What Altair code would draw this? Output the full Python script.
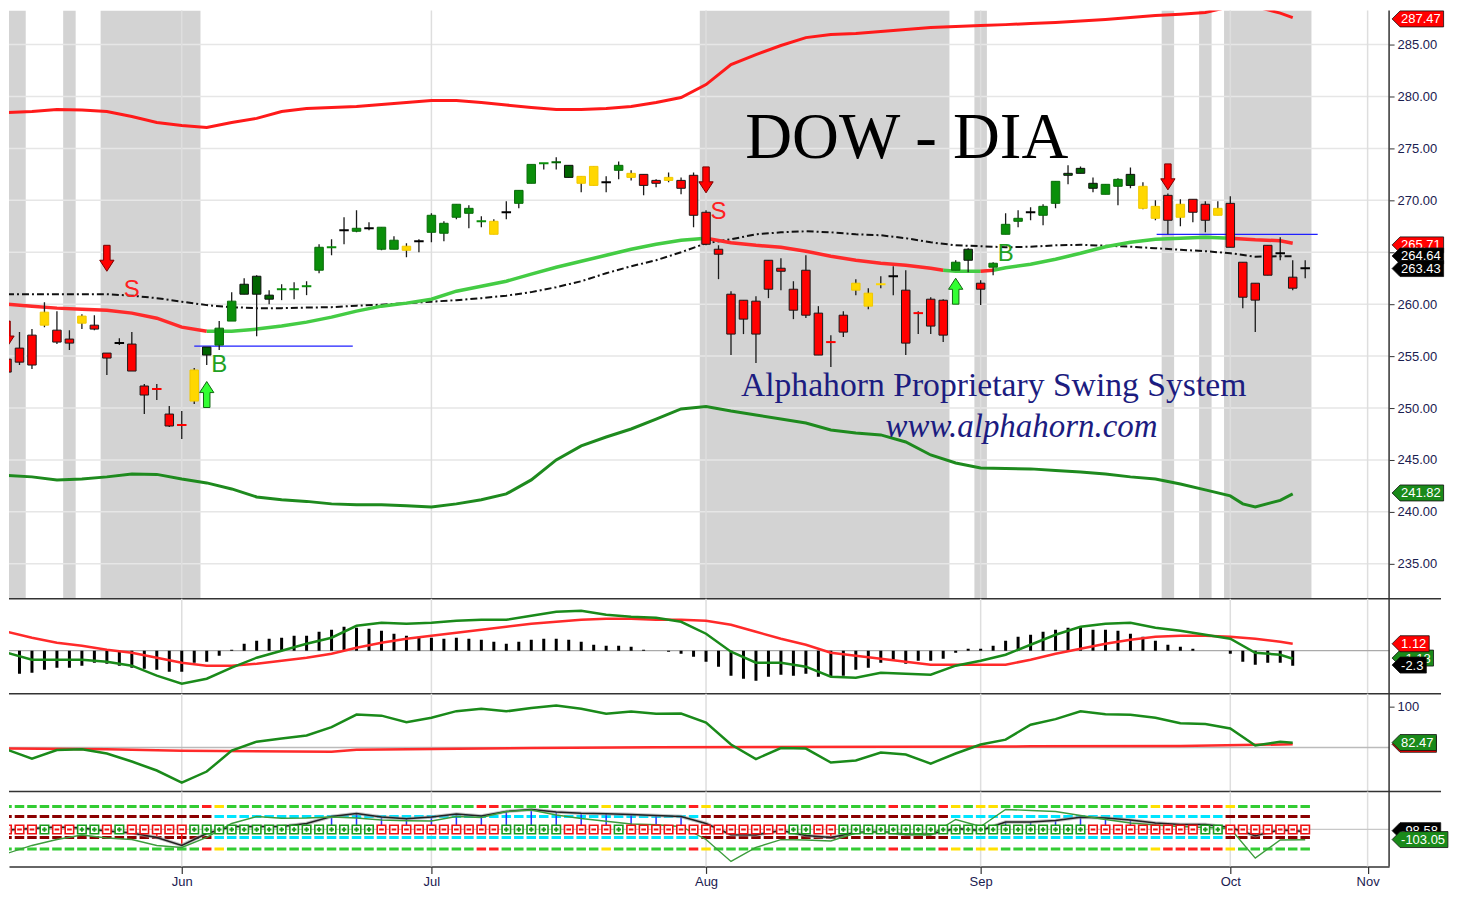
import altair as alt
import pandas as pd

# ---------------- layout / style ----------------
W = 1382
H_MAIN, H_MACD, H_STO, H_BOT = 589, 95, 98, 75
XDOM = [-13.84, 96.72]
PRICE_DOM = [231.63, 288.27]
MACD_DOM = [-6.88, 8.32]
STO_DOM = [58.54, 106.34]
BOT_DOM = [-116.5, -79.0]
FONT = "Liberation Sans"
SERIF = "Liberation Serif"
AXCOL = "#1a2050"
BORDER = "#333333"
TAG_X0 = W + 3
SEP_X2 = 1434

# ---------------- data ----------------
month_idx = [0, 20, 42, 64, 84, 95]
month_lbl = ["Jun", "Jul", "Aug", "Sep", "Oct", "Nov"]
price_ticks = [235, 240, 245, 250, 255, 260, 265, 270, 275, 280, 285]
shade_start = [-14, -9, -6, 42, 64, 79, 82, 84]
shade_end = [-13, -9, 1, 61, 64, 79, 82, 90]

cndl_idx = list(range(-14, 91))
cndl_high = [
    255.67, 257.31, 257.60, 260.19, 259.33, 257.50, 259.04, 258.94, 255.29, 256.73,
    257.31, 252.31, 252.31, 250.19, 249.71, 253.85, 255.87, 258.37, 261.16, 262.50,
    262.79, 261.35, 261.92, 262.12, 262.21, 265.77, 266.25, 268.37, 269.04, 267.89,
    267.41, 266.54, 265.87, 266.25, 268.75, 267.98, 269.62, 269.52, 268.46, 268.17,
    269.91, 270.96, 273.46, 273.56, 274.14, 273.37, 272.31, 273.27, 272.31, 273.75,
    272.89, 272.50, 272.02, 272.69, 272.21, 272.69, 269.04, 265.67, 261.25, 260.38,
    260.77, 264.23, 264.42, 262.21, 264.71, 259.81, 257.02, 259.33, 262.41, 261.54,
    262.69, 263.66, 263.27, 259.33, 260.67, 260.48, 264.23, 265.39, 262.31, 264.04,
    268.75, 269.04, 269.33, 269.62, 271.83, 273.37, 273.27, 272.21, 271.54, 272.12,
    273.17, 271.73, 270.00, 270.67, 270.10, 270.10, 269.91, 269.91, 270.39, 264.04,
    262.02, 265.67, 266.44, 264.23, 264.23]
cndl_low = [
    252.50, 254.14, 253.75, 257.79, 256.16, 255.58, 257.60, 257.50, 253.17, 256.06,
    253.56, 249.42, 250.77, 248.17, 247.02, 250.39, 254.14, 255.58, 258.37, 260.96,
    256.92, 260.00, 260.39, 260.48, 260.87, 262.98, 264.71, 265.77, 266.92, 267.12,
    265.19, 265.29, 264.52, 265.00, 265.96, 266.06, 268.17, 267.31, 267.41, 266.73,
    268.17, 269.23, 271.64, 272.98, 272.98, 272.21, 270.77, 271.44, 270.77, 272.02,
    271.92, 270.48, 271.25, 271.73, 270.58, 267.41, 265.67, 262.41, 255.10, 257.12,
    254.33, 260.58, 261.35, 258.56, 258.66, 255.10, 253.94, 256.83, 260.87, 259.52,
    261.54, 260.87, 255.10, 257.12, 257.12, 256.35, 263.27, 263.08, 259.91, 262.79,
    266.73, 267.41, 268.08, 267.60, 269.23, 271.54, 272.60, 270.77, 270.58, 269.52,
    271.16, 269.14, 268.08, 266.73, 267.50, 267.89, 266.92, 268.56, 265.48, 259.62,
    257.31, 262.79, 264.23, 261.35, 262.50]
cndl_top = [
    254.71, 255.77, 257.02, 259.23, 257.50, 256.64, 258.85, 257.98, 255.29, 256.25,
    256.16, 252.12, 251.83, 249.42, 248.37, 253.66, 255.87, 257.69, 260.29, 261.92,
    262.69, 260.87, 261.44, 261.44, 261.73, 265.48, 265.48, 267.12, 267.31, 267.31,
    267.41, 266.16, 265.58, 266.06, 268.56, 267.79, 269.62, 269.23, 267.98, 267.98,
    268.85, 270.96, 273.46, 273.56, 273.66, 273.37, 272.31, 273.27, 271.73, 273.37,
    272.60, 272.50, 271.92, 272.21, 271.92, 272.41, 268.85, 265.29, 260.96, 260.38,
    260.29, 264.23, 263.46, 261.44, 263.27, 259.14, 256.35, 258.94, 262.02, 261.06,
    261.92, 262.69, 261.35, 259.14, 260.48, 260.38, 264.04, 265.29, 262.02, 263.94,
    267.69, 268.27, 268.85, 269.42, 271.83, 272.60, 273.08, 271.64, 271.54, 272.02,
    272.50, 271.35, 269.42, 270.48, 269.62, 270.10, 269.62, 269.23, 269.71, 264.04,
    262.02, 265.67, 264.91, 262.60, 263.46]
cndl_bot = [
    253.46, 254.42, 254.14, 257.98, 256.35, 256.25, 258.17, 257.60, 254.81, 256.25,
    253.56, 251.25, 251.83, 248.27, 248.37, 250.67, 255.10, 256.06, 258.37, 260.96,
    260.96, 260.48, 261.44, 261.44, 261.73, 263.27, 265.48, 267.12, 267.02, 267.31,
    265.29, 265.29, 265.19, 266.06, 266.92, 266.83, 268.37, 268.75, 267.98, 266.73,
    268.85, 269.71, 271.64, 273.56, 273.66, 272.21, 271.64, 271.44, 271.73, 272.89,
    272.21, 271.44, 271.64, 271.92, 271.16, 268.56, 265.77, 264.81, 257.12, 258.56,
    257.12, 261.44, 263.17, 259.42, 258.94, 255.10, 256.35, 257.31, 261.35, 259.81,
    261.92, 262.69, 256.25, 259.14, 257.89, 257.02, 263.27, 264.23, 261.44, 263.56,
    266.73, 267.98, 268.85, 268.56, 269.71, 272.41, 272.60, 271.16, 270.58, 271.35,
    271.44, 269.23, 268.27, 268.08, 268.37, 268.85, 268.08, 268.56, 265.48, 260.67,
    260.39, 262.79, 264.91, 261.54, 263.46]
cndl_col = ("R R R Y R R Y R R K "
            "R R R R R Y D G G D "
            "D D G G G G G K G K "
            "G G Y K G G G G G Y "
            "K G G G D D Y Y K G "
            "Y R R Y R R R R R R "
            "R R R R R R R R Y Y "
            "Y K R R R R G D R G "
            "G G K G G D D D G G "
            "D Y Y R Y R R Y R R "
            "R R K R K").split()

band_idx = list(range(-14, 85, 2)) + [85, 86, 88, 89]
upper_band = [
    278.46, 278.56, 278.75, 278.70, 278.56, 278.08, 277.50, 277.21, 277.02, 277.50,
    277.89, 278.56, 278.85, 278.94, 279.04, 279.23, 279.42, 279.62, 279.62, 279.42,
    279.18, 278.94, 278.75, 278.75, 278.85, 279.04, 279.42, 279.90, 281.15, 283.08,
    284.04, 284.91, 285.67, 285.96, 286.06, 286.25, 286.44, 286.64, 286.73, 286.83,
    286.92, 287.02, 287.12, 287.26, 287.41, 287.60, 287.79, 287.93, 288.08, 288.66,
    288.99, 288.66, 288.03, 287.60]
lower_band = [
    243.51, 243.37, 243.08, 243.17, 243.37, 243.65, 243.61, 243.17, 242.79, 242.21,
    241.44, 241.16, 241.01, 240.77, 240.68, 240.68, 240.58, 240.48, 240.77, 241.16,
    241.73, 243.08, 245.00, 246.35, 247.21, 247.98, 248.94, 249.91, 250.15, 249.71,
    249.33, 248.94, 248.56, 247.89, 247.60, 247.41, 246.73, 245.48, 244.71, 244.23,
    244.18, 244.14, 243.99, 243.85, 243.65, 243.37, 243.17, 242.69, 242.12, 241.54,
    240.77, 240.48, 241.11, 241.73]

slow_idx = list(range(-14, 89, 2)) + [89]
slow_line = [
    260.96, 260.96, 260.96, 260.96, 260.96, 260.82, 260.58, 260.24, 259.91, 259.71,
    259.62, 259.62, 259.67, 259.71, 259.86, 259.95, 260.10, 260.24, 260.39, 260.58,
    260.82, 261.16, 261.64, 262.21, 262.98, 263.65, 264.23, 265.00, 265.87, 266.25,
    266.73, 266.92, 267.02, 266.92, 266.73, 266.64, 266.35, 265.96, 265.67, 265.58,
    265.48, 265.53, 265.67, 265.72, 265.63, 265.53, 265.39, 265.24, 265.10, 264.91,
    264.57, 264.62, 264.62]

ma_idx = list(range(-14, 61, 2)) + [61, 62, 64, 65] + list(range(66, 85, 2)) + [86, 88, 89]
ma_val = [
    260.00, 259.81, 259.62, 259.52, 259.42, 259.14, 258.65, 257.79,
    257.40, 257.40, 257.60, 257.89, 258.27, 258.75, 259.33, 259.81, 260.10, 260.48,
    261.25, 261.73, 262.21, 262.89, 263.56, 264.13, 264.71, 265.29, 265.77, 266.16,
    266.35, 265.92, 265.67, 265.48, 265.10, 264.62, 264.23, 263.94, 263.75, 263.46,
    263.27, 263.17, 263.17, 263.27,
    263.51, 263.85, 264.33, 264.90, 265.53, 265.96, 266.25, 266.35, 266.44, 266.35,
    266.20, 266.11, 265.87]
ma_col = list("R" * 8 + "G" * 20 + "R" * 10 + "GG" + "R" + "G" + "G" * 9 + "R" * 4)

blue_x0 = [1, 78.1]
blue_x1 = [13.7, 91]
blue_p = [255.96, 266.73]

arrow_dn_idx = [-14, -6, 42, 79]
arrow_dn_p = [257.12, 264.42, 271.97, 272.26]
arrow_up_idx = [2, 62]
arrow_up_p = [251.30, 261.25]
letter_idx = [-4, 43, 3, 66]
letter_p = [261.35, 268.85, 254.14, 264.81]
letter_txt = ["S", "S", "B", "B"]

main_tag_text = ["287.47", "241.82", "265.71", "264.64", "263.43"]
main_tag_val = [287.47, 241.82, 265.71, 264.64, 263.43]
main_tag_fill = ["#ff0000", "#1a8a1a", "#ff0000", "#000000", "#000000"]

macd_idx = list(range(-14, 89, 2)) + [89]
macd_line = [
    -0.32, -1.44, -1.44, -1.44, -1.76, -2.40, -4.00, -5.28, -4.48, -2.72,
    -1.12, 0.00, 1.12, 2.08, 4.00, 4.48, 4.32, 4.48, 4.80, 4.96,
    4.96, 5.60, 6.24, 6.40, 5.76, 5.44, 5.28, 4.64, 2.72, -0.16,
    -1.92, -1.92, -2.56, -4.16, -4.32, -3.52, -3.68, -3.84, -2.40, -1.60,
    -0.64, 0.96, 2.56, 3.84, 4.32, 4.48, 3.68, 3.20, 2.56, 1.92,
    -0.32, -0.64, -1.28]
macd_signal = [
    3.04, 2.08, 1.28, 0.80, 0.16, -0.32, -1.12, -1.92, -2.40, -2.40,
    -2.08, -1.60, -1.12, -0.48, 0.48, 1.28, 1.92, 2.40, 2.88, 3.36,
    3.84, 4.32, 4.64, 4.96, 5.12, 5.12, 4.96, 4.96, 4.80, 4.16,
    3.04, 1.92, 0.96, -0.32, -0.80, -1.28, -1.76, -2.24, -2.24, -2.24,
    -2.24, -1.44, -0.48, 0.32, 1.12, 1.76, 2.24, 2.40, 2.40, 2.24,
    1.92, 1.44, 1.12]
hist_idx = list(range(-14, 90))
macd_hist = [
    -3.52, -3.68, -3.52, -3.04, -2.72, -2.72, -2.40, -1.92, -2.08, -2.40,
    -2.72, -2.88, -3.04, -3.36, -3.36, -1.92, -1.76, -0.80, 0.16, 1.12,
    1.60, 1.92, 2.08, 2.40, 2.40, 3.04, 3.36, 3.84, 3.68, 3.52,
    3.20, 2.72, 2.40, 2.24, 2.08, 1.92, 2.08, 1.92, 1.76, 1.44,
    1.12, 1.44, 1.76, 1.92, 1.92, 1.76, 1.44, 0.96, 0.80, 0.80,
    0.64, 0.16, 0.00, -0.16, -0.48, -0.96, -1.76, -2.56, -4.00, -4.48,
    -4.80, -4.16, -3.84, -4.00, -3.68, -4.16, -4.16, -4.00, -3.04, -2.72,
    -1.92, -1.44, -2.08, -1.60, -1.60, -1.28, -0.32, 0.32, 0.32, 0.80,
    1.60, 2.24, 2.56, 3.04, 3.36, 3.68, 3.84, 3.36, 3.36, 3.20,
    2.72, 2.24, 1.60, 0.96, 0.64, 0.32, 0.00, 0.00, -0.48, -1.76,
    -2.24, -1.92, -1.92, -2.40]
macd_tag_text = ["-1.18", "1.12", "-2.3"]
macd_tag_val = [-1.18, 1.12, -2.3]
macd_tag_fill = ["#1a8a1a", "#ff0000", "#000000"]

sto_idx = list(range(-14, 89, 2)) + [89]
sto_fast = [
    79.0, 74.6, 78.8, 79.2, 77.1, 73.2, 68.8, 62.9, 68.3, 78.5,
    82.9, 84.4, 85.9, 90.0, 96.1, 95.6, 92.4, 94.6, 97.8, 99.0,
    97.7, 99.3, 100.5, 99.0, 96.5, 97.6, 96.5, 96.6, 92.2, 81.5,
    74.4, 79.8, 79.5, 72.7, 73.7, 77.6, 76.6, 72.2, 77.1, 81.5,
    83.9, 91.2, 93.9, 97.7, 96.3, 96.0, 94.6, 91.9, 91.5, 89.3,
    81.0, 82.9, 82.4]
sto_slow_idx = [-14, -6, 0, 12, 14, 28, 38, 68, 80, 89]
sto_slow = [79.6, 79.2, 78.5, 78.0, 78.9, 79.8, 80.2, 80.6, 80.8, 81.6]
sto_ref_level = [80]
sto_ticks = [100]
sto_tag_text = ["81.60", "82.47"]
sto_tag_val = [81.6, 82.47]
sto_tag_fill = ["#ff0000", "#1a8a1a"]

osc_idx = list(range(-14, 91, 2))
osc_black = [
    -98.25, -97.5, -96.75, -97.25, -98.75, -99.75, -102.0, -106.0,
    -100.0, -96.5, -96.5, -96.5, -95.0, -91.5, -90.0, -91.75, -92.6, -91.75,
    -90.25, -91.25, -89.0, -88.0, -89.25, -89.9, -90.15, -90.5, -91.0, -91.5,
    -95.0, -100.65, -100.75, -98.5, -101.0, -102.0, -99.5, -99.0, -100.5, -100.25,
    -97.5, -98.5, -94.25, -94.25, -93.5, -91.9, -92.25, -93.25, -94.75, -95.5,
    -95.5, -97.0, -101.15, -98.15, -99.0]
osc_green = [
    -110.0, -106.0, -103.0, -100.75, -102.25, -103.0, -106.0, -107.0,
    -102.0, -95.0, -91.5, -92.4, -92.25, -91.75, -92.25, -93.25, -93.6, -93.75,
    -91.5, -92.0, -89.0, -88.25, -90.75, -92.5, -93.9, -95.25, -95.6, -96.5,
    -103.0, -114.0, -107.0, -103.1, -103.25, -103.75, -99.75, -99.0, -100.5, -100.75,
    -93.0, -96.5, -88.0, -88.5, -89.0, -91.0, -93.0, -94.75, -95.75, -96.5,
    -97.0, -97.5, -112.35, -103.25, -103.15]
marker_level = -98.0
marker_sign = ("RRRGRRGGRG" + "RRRRR" + "G" * 15 + "R" * 10 + "G" * 5 + "R" * 4 + "G"
               + "R" * 13 + "GG" + "RR" + "G" * 20 + "R" * 9 + "GG" + "R" * 7)
dash_levels = [-86.5, -91.5, -102.0, -107.75]
dash_kind = ["outer", "inner", "inner", "outer"]
outer_red = [2, 24, 25, 41, 57, 61, 79, 80, 81, 82, 83]
outer_yellow = [3, 34, 42, 62, 64, 65, 78, 84]
inner_col = "M" * 17 + "C" * 39 + "M" * 20 + "C" * 22 + "M" * 7
bot_tag_text = ["-98.58", "-103.05"]
bot_tag_val = [-98.58, -103.05]
bot_tag_fill = ["#000000", "#1a8a1a"]

# ---------------- helpers ----------------
xs = alt.Scale(domain=XDOM, nice=False, zero=False)
label_expr = "[" + ",".join("'%s'" % m for m in month_lbl) + "][indexof([" + \
    ",".join(str(v) for v in month_idx) + "], datum.value)]"
ax_x = alt.Axis(values=month_idx, labelExpr=label_expr, grid=False, domain=True,
                domainColor=BORDER, domainWidth=1.5, ticks=True, tickSize=7,
                tickColor=BORDER, tickWidth=1.2, labelFont=FONT, labelFontSize=13,
                labelColor=AXCOL, labelPadding=2, title=None, orient="bottom")


def X(field, axis=None):
    return alt.X(field, scale=xs, axis=axis)


def mkY(scale, axis):
    def f(field):
        return alt.Y(field, scale=scale, axis=axis)
    return f


ys_main = alt.Scale(domain=PRICE_DOM, nice=False, zero=False)
ax_main = alt.Axis(orient="right", values=price_ticks, format=".2f", grid=False,
                   domain=False, ticks=True, tickSize=5, tickColor=BORDER,
                   labelFont=FONT, labelFontSize=13, labelColor=AXCOL,
                   labelPadding=3, title=None)
YM = mkY(ys_main, ax_main)
ys_macd = alt.Scale(domain=MACD_DOM, nice=False, zero=False)
YD = mkY(ys_macd, None)
ys_sto = alt.Scale(domain=STO_DOM, nice=False, zero=False)
ax_sto = alt.Axis(orient="right", values=sto_ticks, format="d", grid=False,
                  domain=False, ticks=True, tickSize=5, tickColor=BORDER,
                  labelFont=FONT, labelFontSize=13, labelColor=AXCOL,
                  labelPadding=3, title=None)
YS = mkY(ys_sto, ax_sto)
ys_bot = alt.Scale(domain=BOT_DOM, nice=False, zero=False)
YB = mkY(ys_bot, None)


def rule_px(x, x2, y, y2, color=BORDER, w=1.5):
    return alt.Chart(pd.DataFrame({"a": [0]})).mark_rule(color=color, strokeWidth=w).encode(
        x=alt.value(x), x2=alt.value(x2), y=alt.value(y), y2=alt.value(y2))


def vgrid(h, axis=None):
    return alt.Chart(pd.DataFrame({"i": month_idx})).mark_rule(
        color="#dedede", strokeWidth=1.5).encode(
        x=X("i:Q", axis), y=alt.value(0), y2=alt.value(h))


def tag_layers(texts, vals, fills, Yf):
    layers = []
    for t, v, f in zip(texts, vals, fills):
        w = 12 + 7.2 * len(t) - 3.6 * t.count(".") - 2.9 * t.count("-")
        half = w / 2.0
        hh = 8.0 / half
        pt = 8.0 / half
        path = ("M -1 0 L %.4f %.4f L 1 %.4f L 1 %.4f L %.4f %.4f Z"
                % (-1 + pt, -hh, -hh, hh, -1 + pt, hh))
        base = alt.Chart(pd.DataFrame({"v": [v], "t": [t]}))
        shp = base.mark_point(shape=path, size=w * w, filled=True, fill=f,
                              stroke="#111111", strokeWidth=0.8, opacity=1).encode(
            x=alt.value(TAG_X0 + half), y=Yf("v:Q"))
        lab = base.mark_text(align="left", baseline="middle", font=FONT, fontSize=13,
                             color="white", dy=0.5).encode(
            x=alt.value(TAG_X0 + 9), y=Yf("v:Q"), text="t:N")
        layers += [shp, lab]
    return layers


DOWN = "M -0.25 -1 L 0.25 -1 L 0.25 0.15 L 0.55 0.15 L 0 1 L -0.55 0.15 L -0.25 0.15 Z"
UP = "M -0.25 1 L 0.25 1 L 0.25 -0.15 L 0.55 -0.15 L 0 -1 L -0.55 -0.15 L -0.25 -0.15 Z"

# ---------------- main panel ----------------
bands = alt.Chart(pd.DataFrame({"s": shade_start, "e": shade_end})).transform_calculate(
    x0="datum.s - 0.5", x1="datum.e + 0.5").mark_rect(color="#d3d3d3", clip=True).encode(
    x=X("x0:Q"), x2="x1:Q", y=alt.value(0), y2=alt.value(H_MAIN))
hgrid = alt.Chart(pd.DataFrame({"p": price_ticks})).mark_rule(
    color="#e6e6e6", strokeWidth=1.5).encode(y=YM("p:Q"), x=alt.value(0), x2=alt.value(W))

fill_map = {"R": "#ff0000", "G": "#0a8f0a", "D": "#006400", "Y": "#ffd700", "K": "#000000"}
stroke_map = {"R": "#1a1a1a", "G": "#0a6a0a", "D": "#101010", "Y": "#f0c800", "K": "#000000"}
cd = pd.DataFrame({"i": cndl_idx, "hi": cndl_high, "lo": cndl_low,
                   "top": cndl_top, "bot": cndl_bot, "c": cndl_col})
cd["fill"] = cd["c"].map(fill_map)
cd["stroke"] = cd["c"].map(stroke_map)
is_cross = cd["top"] == cd["bot"]

wicks = alt.Chart(cd).mark_rule(color="#1a1a1a", strokeWidth=1.3, clip=True).encode(
    x=X("i:Q"), y=YM("hi:Q"), y2="lo:Q")
bodies = alt.Chart(cd[~is_cross]).transform_calculate(
    xa="datum.i - 0.34", xb="datum.i + 0.34").mark_rect(strokeWidth=1, clip=True).encode(
    x=X("xa:Q"), x2="xb:Q", y=YM("top:Q"), y2="bot:Q",
    fill=alt.Fill("fill:N", scale=None), stroke=alt.Stroke("stroke:N", scale=None))
crosses = alt.Chart(cd[is_cross]).transform_calculate(
    xa="datum.i - 0.38", xb="datum.i + 0.38").mark_rule(strokeWidth=2, clip=True).encode(
    x=X("xa:Q"), x2="xb:Q", y=YM("top:Q"), color=alt.Color("fill:N", scale=None))

upper = alt.Chart(pd.DataFrame({"i": band_idx, "v": upper_band})).mark_line(
    color="#ff1a1a", strokeWidth=3, clip=True).encode(x=X("i:Q"), y=YM("v:Q"))
lower = alt.Chart(pd.DataFrame({"i": band_idx, "v": lower_band})).mark_line(
    color="#1e8a1e", strokeWidth=3, clip=True).encode(x=X("i:Q"), y=YM("v:Q"))
slow = alt.Chart(pd.DataFrame({"i": slow_idx, "v": slow_line})).mark_line(
    color="#111111", strokeWidth=2, strokeDash=[7, 3, 2, 3], clip=True).encode(
    x=X("i:Q"), y=YM("v:Q"))

ma_rows = []
run = 0
seen = set()
for k in range(len(ma_idx) - 1):
    if k > 0 and ma_col[k] != ma_col[k - 1]:
        run += 1
    colr = "#ff2a2a" if ma_col[k] == "R" else "#44cc44"
    for j in (k, k + 1):
        if (run, j) not in seen:
            seen.add((run, j))
            ma_rows.append({"i": ma_idx[j], "v": ma_val[j], "run": run, "col": colr})
ma = alt.Chart(pd.DataFrame(ma_rows)).mark_line(strokeWidth=3.5, clip=True).encode(
    x=X("i:Q"), y=YM("v:Q"), color=alt.Color("col:N", scale=None), detail="run:N")

blue = alt.Chart(pd.DataFrame({"x0": blue_x0, "x1": blue_x1, "p": blue_p})).mark_rule(
    color="#2020ff", strokeWidth=1.3, clip=True).encode(x=X("x0:Q"), x2="x1:Q", y=YM("p:Q"))

arr_dn = alt.Chart(pd.DataFrame({"i": arrow_dn_idx, "p": arrow_dn_p})).mark_point(
    shape=DOWN, size=676, filled=True, fill="#ff0000", stroke="#7a0000",
    strokeWidth=1, opacity=1, clip=True).encode(x=X("i:Q"), y=YM("p:Q"))
arr_up = alt.Chart(pd.DataFrame({"i": arrow_up_idx, "p": arrow_up_p})).mark_point(
    shape=UP, size=676, filled=True, fill="#33ff33", stroke="#116611",
    strokeWidth=1, opacity=1, clip=True).encode(x=X("i:Q"), y=YM("p:Q"))
letters = alt.Chart(pd.DataFrame({
    "i": letter_idx, "p": letter_p, "t": letter_txt,
    "c": ["#ff2020" if t == "S" else "#22a022" for t in letter_txt]})).mark_text(
    font=FONT, fontSize=24, baseline="middle").encode(
    x=X("i:Q"), y=YM("p:Q"), text="t:N", color=alt.Color("c:N", scale=None))

t1 = alt.Chart(pd.DataFrame({"t": ["DOW - DIA"]})).mark_text(
    font=SERIF, fontSize=65, color="#000000", align="center", baseline="alphabetic").encode(
    x=alt.value(899), y=alt.value(148), text="t:N")
t2 = alt.Chart(pd.DataFrame({"t": ["Alphahorn Proprietary Swing System"]})).mark_text(
    font=SERIF, fontSize=33.7, color="#1c1c80", align="center", baseline="alphabetic").encode(
    x=alt.value(986), y=alt.value(386), text="t:N")
t3 = alt.Chart(pd.DataFrame({"t": ["www.alphahorn.com"]})).mark_text(
    font=SERIF, fontSize=33, fontStyle="italic", color="#1c1c80", align="center",
    baseline="alphabetic").encode(x=alt.value(1014), y=alt.value(427), text="t:N")

main = alt.layer(
    bands, hgrid, vgrid(H_MAIN), blue, upper, lower, slow, ma, wicks, bodies, crosses,
    arr_dn, arr_up, letters, t1, t2, t3,
    rule_px(W, W, 0, H_MAIN), rule_px(0, SEP_X2, H_MAIN, H_MAIN),
    *tag_layers(main_tag_text, main_tag_val, main_tag_fill, YM)
).properties(width=W, height=H_MAIN)

# ---------------- MACD panel ----------------
zero_d = alt.Chart(pd.DataFrame({"v": [0]})).mark_rule(color="#aaaaaa", strokeWidth=1.2).encode(
    y=YD("v:Q"), x=alt.value(0), x2=alt.value(W))
hist = alt.Chart(pd.DataFrame({"i": hist_idx, "h": macd_hist})).transform_calculate(
    z="0").mark_rule(color="#000000", strokeWidth=3, clip=True).encode(
    x=X("i:Q"), y=YD("h:Q"), y2="z:Q")
macd_g = alt.Chart(pd.DataFrame({"i": macd_idx, "v": macd_line})).mark_line(
    color="#1a8a1a", strokeWidth=2.5, clip=True).encode(x=X("i:Q"), y=YD("v:Q"))
macd_r = alt.Chart(pd.DataFrame({"i": macd_idx, "v": macd_signal})).mark_line(
    color="#ff2a2a", strokeWidth=2.5, clip=True).encode(x=X("i:Q"), y=YD("v:Q"))
macd = alt.layer(
    vgrid(H_MACD), zero_d, hist, macd_r, macd_g,
    rule_px(W, W, 0, H_MACD), rule_px(0, SEP_X2, H_MACD, H_MACD),
    *tag_layers(macd_tag_text, macd_tag_val, macd_tag_fill, YD)
).properties(width=W, height=H_MACD)

# ---------------- oscillator panel ----------------
ref_s = alt.Chart(pd.DataFrame({"v": sto_ref_level})).mark_rule(
    color="#bbbbbb", strokeWidth=1.5).encode(y=YS("v:Q"), x=alt.value(0), x2=alt.value(W))
sto_r = alt.Chart(pd.DataFrame({"i": sto_slow_idx, "v": sto_slow})).mark_line(
    color="#ff2a2a", strokeWidth=2.5, clip=True).encode(x=X("i:Q"), y=YS("v:Q"))
sto_g = alt.Chart(pd.DataFrame({"i": sto_idx, "v": sto_fast})).mark_line(
    color="#1a8a1a", strokeWidth=2.5, clip=True).encode(x=X("i:Q"), y=YS("v:Q"))
sto = alt.layer(
    vgrid(H_STO), ref_s, sto_r, sto_g,
    rule_px(W, W, 0, H_STO), rule_px(0, SEP_X2, H_STO, H_STO),
    *tag_layers(sto_tag_text, sto_tag_val, sto_tag_fill, YS)
).properties(width=W, height=H_STO)

# ---------------- bottom panel ----------------
dash_colors = {"G": "#33cc33", "R": "#ff2020", "Y": "#ffe000", "M": "#8b0000", "C": "#00e5ff"}
drows = []
for k, i in enumerate(cndl_idx):
    oc = "R" if i in outer_red else ("Y" if i in outer_yellow else "G")
    ic = inner_col[k]
    for lv, kind in zip(dash_levels, dash_kind):
        drows.append({"i": i, "lv": lv, "c": dash_colors[oc if kind == "outer" else ic]})
dashes = alt.Chart(pd.DataFrame(drows)).transform_calculate(
    xa="datum.i - 0.38", xb="datum.i + 0.38").mark_rule(strokeWidth=3, clip=True).encode(
    x=X("xa:Q", ax_x), x2="xb:Q", y=YB("lv:Q"), color=alt.Color("c:N", scale=None))
ref_b = alt.Chart(pd.DataFrame({"v": [marker_level]})).mark_rule(
    color="#c8c8c8", strokeWidth=1.2).encode(y=YB("v:Q"), x=alt.value(0), x2=alt.value(W))
st = pd.DataFrame({"i": osc_idx, "v": osc_black})
st["lv"] = marker_level
st["c"] = ["#2233ff" if v > marker_level else "#ff1111" for v in osc_black]
stems = alt.Chart(st).mark_rule(strokeWidth=1.5, clip=True).encode(
    x=X("i:Q", ax_x), y=YB("v:Q"), y2="lv:Q", color=alt.Color("c:N", scale=None))
blk_shadow = alt.Chart(pd.DataFrame({"i": osc_idx, "v": osc_black})).mark_line(
    color="#9a9a9a", strokeWidth=3.5, opacity=0.6, clip=True).encode(
    x=X("i:Q", ax_x), y=YB("v:Q"))
blk = alt.Chart(pd.DataFrame({"i": osc_idx, "v": osc_black})).mark_line(
    color="#222222", strokeWidth=1.5, clip=True).encode(x=X("i:Q", ax_x), y=YB("v:Q"))
grn = alt.Chart(pd.DataFrame({"i": osc_idx, "v": osc_green})).mark_line(
    color="#3c9c3c", strokeWidth=1.4, clip=True).encode(x=X("i:Q", ax_x), y=YB("v:Q"))
mk = pd.DataFrame({"i": cndl_idx, "s": list(marker_sign)})
mk["lv"] = marker_level
mk["sc"] = mk["s"].map({"G": "#1a9a1a", "R": "#ee1111"})
squares = alt.Chart(mk).mark_point(
    shape="square", size=72, filled=True, fill="white", strokeWidth=1.6,
    opacity=1, clip=True).encode(
    x=X("i:Q", ax_x), y=YB("lv:Q"), stroke=alt.Stroke("sc:N", scale=None))
plus = alt.Chart(mk[mk["s"] == "G"]).mark_point(
    shape="cross", size=22, filled=True, color="#1a9a1a", opacity=1, clip=True).encode(
    x=X("i:Q", ax_x), y=YB("lv:Q"))
minus = alt.Chart(mk[mk["s"] == "R"]).mark_point(
    shape="stroke", size=22, filled=False, color="#ee1111", strokeWidth=2,
    opacity=1, clip=True).encode(x=X("i:Q", ax_x), y=YB("lv:Q"))
bot = alt.layer(
    vgrid(H_BOT, ax_x), ref_b, dashes, stems, blk_shadow, blk, grn, squares, plus, minus,
    rule_px(W, W, 0, H_BOT),
    *tag_layers(bot_tag_text, bot_tag_val, bot_tag_fill, YB)
).properties(width=W, height=H_BOT)

chart = alt.vconcat(main, macd, sto, bot, spacing=0, bounds="flush", padding=0,
                    background="white").resolve_scale(
    x="independent", y="independent").configure_view(stroke=None)

chart.save("out.html", embed_options={"renderer": "svg", "actions": False})
